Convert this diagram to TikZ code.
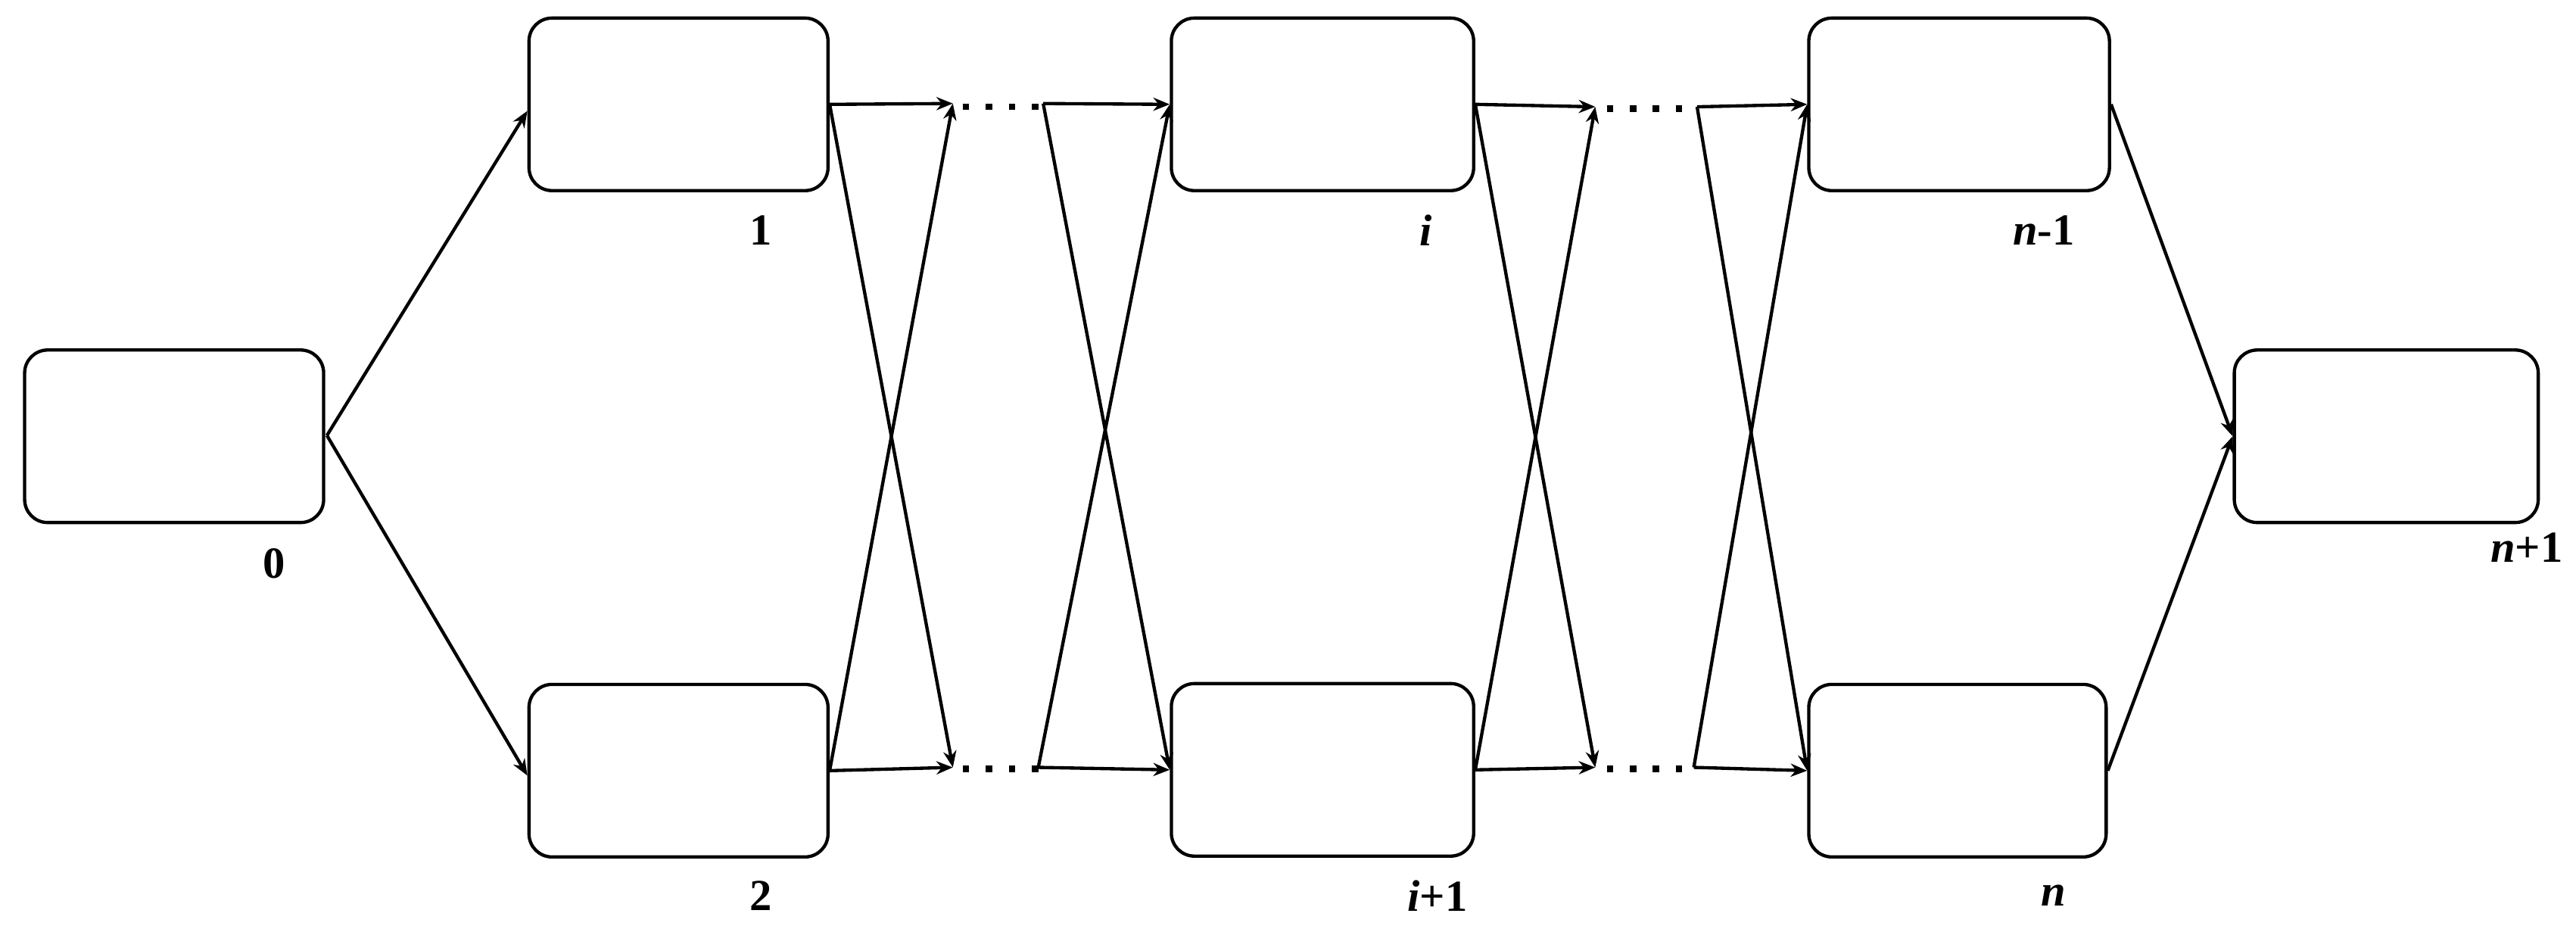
\documentclass[tikz,border=0pt]{standalone}
\usepackage{fontspec}
\setmainfont{Liberation Serif}
\usetikzlibrary{arrows.meta}
\begin{document}
\begin{tikzpicture}[x=1pt,y=-1pt,
  box/.style={draw,line width=2pt,rounded corners=14pt,minimum width=182pt,minimum height=105pt,inner sep=0pt},
  lab/.style={font=\fontsize{27}{30}\selectfont\bfseries},
  arr/.style={line width=2pt,-{Stealth[length=10pt,width=8pt]}},
  dts/.style={line width=4pt,dash pattern=on 4pt off 10pt}]
\useasboundingbox (0,0) rectangle (1568,565);
\node[box] (b0) at (106,265.5) {};
\node[box] (b1) at (413,63.5) {};
\node[box] (b2) at (413,469) {};
\node[box,minimum width=184pt] (bi) at (805,63.5) {};
\node[box,minimum width=184pt] (bi1) at (805,468.5) {};
\node[box,minimum width=183pt] (bn1) at (1192.5,63.5) {};
\node[box,minimum width=181pt] (bn) at (1191.5,469) {};
\node[box,minimum width=185pt] (bn2) at (1452.5,265.5) {};
\node[lab] (l0) at (167,343) {0};
\node[lab] (l1) at (463,140) {1};
\node[lab] (l2) at (463,545) {2};
\node[lab] (li) at (868,140) {\itshape i};
\node[lab] (li1) at (875,545) {\textit{i}+1};
\node[lab] (ln1) at (1244,140) {\textit{n}-1};
\node[lab] (ln) at (1250,545) {\itshape n};
\node[lab] (ln2) at (1538,333) {\textit{n}+1};
\coordinate (o0) at (199,265);
\coordinate (a1) at (580,63); \coordinate (c1) at (635,63);
\coordinate (a2) at (580,467); \coordinate (c2) at (632,467);
\coordinate (a3) at (971,65); \coordinate (c3) at (1033,65);
\coordinate (a4) at (971,467); \coordinate (c4) at (1031,467);
\draw[arr] (o0) -- ([yshift=-4pt]b1.west);
\draw[arr] (o0) -- ([yshift=-3pt]b2.west);
\draw[arr] (b1.east) -- (a1);
\draw[arr] (b1.east) -- (a2);
\draw[arr] (b2.east) -- (a2);
\draw[arr] (b2.east) -- (a1);
\draw[dts] (586,65) -- (632,65);
\draw[dts] (586,468) -- (632,468);
\draw[arr] (c1) -- (bi.west);
\draw[arr] (c1) -- (bi1.west);
\draw[arr] (c2) -- (bi1.west);
\draw[arr] (c2) -- (bi.west);
\draw[arr] (bi.east) -- (a3);
\draw[arr] (bi.east) -- (a4);
\draw[arr] (bi1.east) -- (a4);
\draw[arr] (bi1.east) -- (a3);
\draw[dts] (978,66) -- (1030,66);
\draw[dts] (978,468) -- (1030,468);
\draw[arr] (c3) -- (bn1.west);
\draw[arr] (c3) -- (bn.west);
\draw[arr] (c4) -- (bn.west);
\draw[arr] (c4) -- (bn1.west);
\draw[arr] (bn1.east) -- (bn2.west);
\draw[arr] (bn.east) -- (bn2.west);
\end{tikzpicture}
\end{document}
